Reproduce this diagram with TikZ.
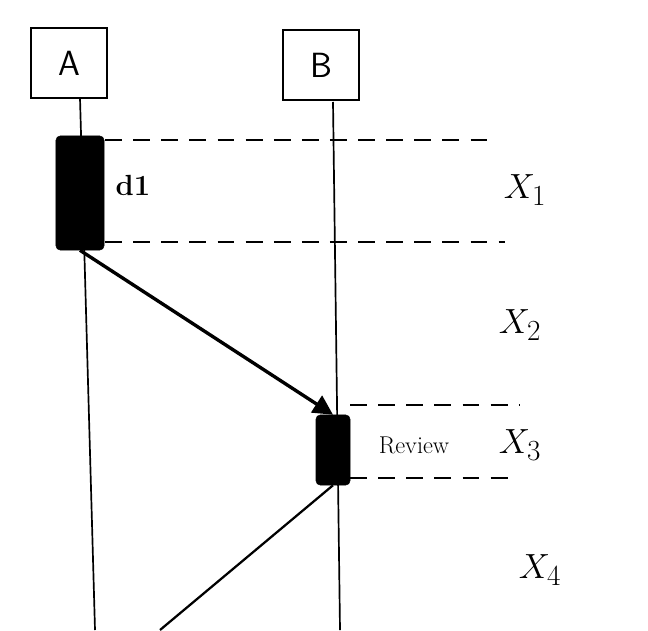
\documentclass[tikz,border=0pt]{standalone}
\usetikzlibrary{arrows.meta,positioning}

\begin{document}
\begin{tikzpicture}[x=0.025cm,y=-0.025cm,
    lifebox/.style={draw=black,line width=1.2pt,minimum width=1.9cm,minimum height=1.75cm,font=\Huge\sffamily},
    actbox/.style={draw=black,fill=black,rounded corners=3pt},
    gap/.style={dashed,line width=1.2pt,dash pattern=on 12pt off 8pt},
    life/.style={line width=1.2pt},
    msg/.style={line width=2.4pt,-{Triangle[length=14pt,width=14pt]}},
    interval/.style={font=\Huge}
    ]
    \useasboundingbox (0,0) rectangle (648,630);
    \node[lifebox] (boxA) at (69,63) {A};
    \node[lifebox] (boxB) at (321,65) {B};
    \coordinate (topA) at (80,98);
    \coordinate (topB) at (333,102);
    \coordinate (endA) at (95,630);
    \coordinate (endB) at (340,630);
    \draw[life] (topA) -- (endA);
    \draw[life] (topB) -- (endB);

    \node[actbox,minimum width=1.2cm,minimum height=2.85cm] (actA) at (80,193) {};
    \node[actbox,minimum width=0.85cm,minimum height=1.75cm] (actB) at (333,450) {};
    \node[font=\huge\bfseries] (d1) at (133,185) {d1};
    \node[font=\LARGE] (review) at (414,445) {Review};

    % interval borders
    \coordinate (g1a) at (105,140); \coordinate (g1b) at (490,140);
    \coordinate (g2a) at (105,242); \coordinate (g2b) at (505,242);
    \coordinate (g3a) at (350,405); \coordinate (g3b) at (520,405);
    \coordinate (g4a) at (350,478); \coordinate (g4b) at (515,478);
    \foreach \i/\j in {g1a/g1b,g2a/g2b,g3a/g3b,g4a/g4b}
        \draw[gap] (\i) -- (\j);

    \node[interval] (x1) at (525,190) {$X_1$};
    \node[interval] (x2) at (520,325) {$X_2$};
    \node[interval] (x3) at (520,445) {$X_3$};
    \node[interval] (x4) at (540,570) {$X_4$};

    \draw[msg] (actA.south) -- (actB.north);
    \coordinate (endRet) at (160,630);
    \draw[line width=1.6pt] (actB.south) -- (endRet);
\end{tikzpicture}
\end{document}
